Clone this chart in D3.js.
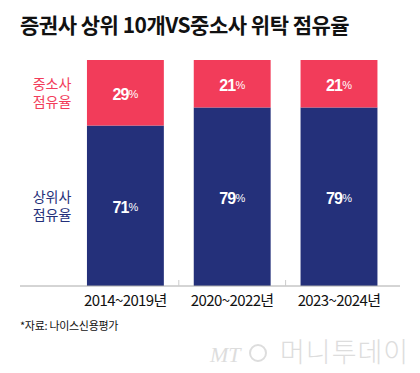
<!DOCTYPE html>
<html>
<head>
<meta charset="utf-8">
<script src="https://cdn.jsdelivr.net/npm/d3@7"></script>
<style>
body{margin:0;background:#fff;}
svg{display:block;font-family:"Noto Sans CJK KR","Noto Sans",sans-serif;}
</style>
</head>
<body>
<svg id="svg" width="420" height="373"></svg>
<script>
var periods=['2014~2019년','2020~2022년','2023~2024년'];
var topShare=[71,79,79];
var smallShare=[29,21,21];

var svg=d3.select("#svg");
var red='#f23c5a', navy='#24307a';

var xscale=d3.scaleBand()
.domain(periods)
.range([72,392.4])
.paddingInner(.28)
.paddingOuter(.14);

var yscale=d3.scaleLinear()
.domain([0,100])
.range([286,60]);

// title
svg.append("text")
.attr("x",20).attr("y",33)
.attr("font-size",21).attr("font-weight","bold")
.attr("fill","#111")
.attr("letter-spacing",-0.5)
.text("증권사 상위 10개VS중소사 위탁 점유율");

var data=periods.map(function(p,i){return {p:p,top:topShare[i],small:smallShare[i]};});

var g=svg.append("g");

// navy (bottom)
g.selectAll("rect.top").data(data).enter()
.append("rect").attr("class","top")
.attr("x",function(d){return xscale(d.p);})
.attr("width",xscale.bandwidth())
.attr("y",function(d){return yscale(d.top);})
.attr("height",function(d){return yscale(0)-yscale(d.top);})
.attr("fill",navy);

// red (top)
g.selectAll("rect.small").data(data).enter()
.append("rect").attr("class","small")
.attr("x",function(d){return xscale(d.p);})
.attr("width",xscale.bandwidth())
.attr("y",function(d){return yscale(d.top+d.small);})
.attr("height",function(d){return yscale(d.top)-yscale(d.top+d.small);})
.attr("fill",red);

function pct(sel,val,ypos){
	var t=sel.append("text")
	.attr("x",function(d){return xscale(d.p)+xscale.bandwidth()/2;})
	.attr("y",ypos)
	.attr("text-anchor","middle")
	.attr("dominant-baseline","central")
	.attr("fill","#fff")
	.attr("font-family","'Liberation Sans',Arial,sans-serif");
	t.append("tspan").attr("font-size",16).attr("font-weight","bold").attr("letter-spacing",-0.8).text(val);
	t.append("tspan").attr("font-size",11).text("%");
}
pct(g.selectAll("text.s").data(data).enter(),function(d){return d.small;},function(d){return (yscale(d.top)+yscale(d.top+d.small))/2+1;});
pct(g.selectAll("text.t").data(data).enter(),function(d){return d.top;},function(d){return (yscale(0)+yscale(d.top))/2+1;});

// left labels (two lines in one text)
var lab=[{t:["중소사","점유율"],c:red,y:(yscale(71)+yscale(100))/2},{t:["상위사","점유율"],c:navy,y:(yscale(0)+yscale(71))/2}];
lab.forEach(function(l){
	var t=svg.append("text")
	.attr("y",l.y-4)
	.attr("text-anchor","middle")
	.attr("font-size",14)
	.attr("fill",l.c);
	l.t.forEach(function(s,j){
		t.append("tspan").attr("x",52).attr("dy",j?18:0).text(s);
	});
});

// axis
svg.append("line")
.attr("x1",20).attr("x2",400)
.attr("y1",286).attr("y2",286)
.attr("stroke","#aaa").attr("stroke-width",1);
[1,2].forEach(function(i){
	var xx=(xscale(periods[i-1])+xscale.bandwidth()+xscale(periods[i]))/2;
	svg.append("line").attr("x1",xx).attr("x2",xx).attr("y1",280).attr("y2",286)
	.attr("stroke","#ccc").attr("stroke-width",1);
});

svg.append("g").selectAll("text").data(periods).enter()
.append("text")
.attr("x",function(d){return xscale(d)+xscale.bandwidth()/2;})
.attr("y",306)
.attr("text-anchor","middle")
.attr("font-size",15)
.attr("letter-spacing",-0.6)
.attr("fill","#111")
.text(function(d){return d;});

svg.append("text")
.attr("x",20).attr("y",330)
.attr("font-size",11)
.attr("letter-spacing",-0.3)
.attr("fill","#111")
.text("*자료: 나이스신용평가");

// watermark
svg.append("text")
.attr("x",210).attr("y",362)
.attr("font-size",22)
.attr("font-style","italic")
.attr("fill","#ddd")
.attr("font-family","'Liberation Serif',serif")
.text("MT");
svg.append("circle").attr("cx",258).attr("cy",353).attr("r",8)
.attr("fill","none").attr("stroke","#ddd").attr("stroke-width",2);
svg.append("text")
.attr("x",280).attr("y",362)
.attr("font-size",27)
.attr("font-weight",300)
.attr("fill","#ddd")
.attr("letter-spacing",1)
.text("머니투데이");
</script>
</body>
</html>
